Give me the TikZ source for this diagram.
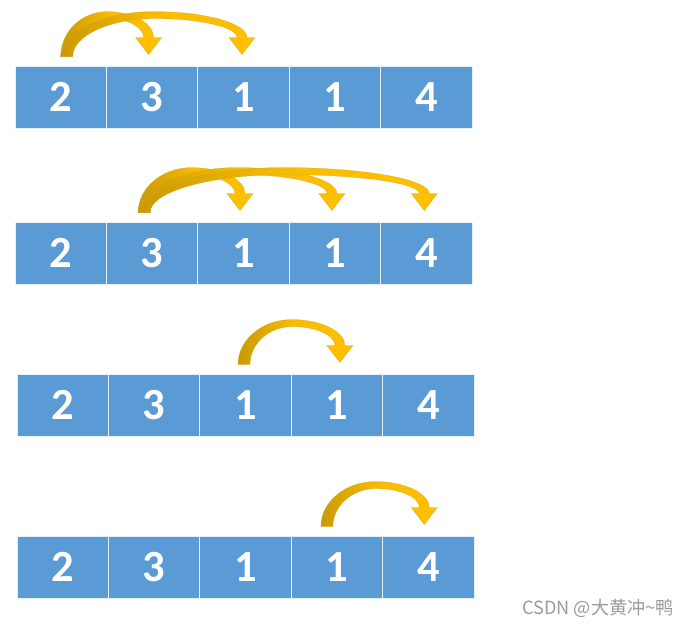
\documentclass[tikz,border=0pt]{standalone}
\usepackage{fontspec}
\setmainfont{Carlito}
\newfontfamily\cjk{Noto Sans CJK SC}
\usetikzlibrary{calc}
\definecolor{cellblue}{HTML}{5B9BD5}
\definecolor{arrowgold}{HTML}{FFC000}
\definecolor{arrowdark}{HTML}{C99A06}
\definecolor{markgray}{HTML}{9A9A9A}
% #1 from cell, #2 base shift, #3 to cell, #4 tip shift, #5 arc height
\def\curvearrow#1#2#3#4#5{
	\coordinate (ab) at ($(#1.north)+(#2,-9)$);
	\coordinate (at) at ($(#3.north)+(#4,-11)$);
	\coordinate (nk) at ($(at)+(5,-17)$);
	\coordinate (nl) at ($(at)+(-5,-17)$);
	\coordinate (br) at ($(ab)+(12,0)$);
	\coordinate (tp) at ($(ab)+(0,-#5)$);
	\coordinate (ti) at ($(br)+(0,-#5+7)$);
	\coordinate (pk) at ($(ab)!0.5!(nk)$);
	\coordinate (pi) at ($(br)!0.5!(nl)$);
	\path[jumparrow] (ab) .. controls ($(ab)!0.55!(tp)$) and ($(pk |- tp)!0.55!(tp)$) .. (pk |- tp)
		.. controls ($(pk |- tp)!0.55!(nk |- tp)$) and ($(nk)!0.55!(nk |- tp)$) .. (nk)
		-- ($(at)+(13,-17)$) -- (at) -- ($(at)+(-13,-17)$) -- (nl)
		.. controls ($(nl)!0.55!(nl |- ti)$) and ($(pi |- ti)!0.55!(nl |- ti)$) .. (pi |- ti)
		.. controls ($(pi |- ti)!0.55!(ti)$) and ($(br)!0.55!(ti)$) .. (br) -- cycle;
}

\begin{document}
\begin{tikzpicture}[x=0.03cm, y=-0.03cm,
	cell/.style={draw=white!85!cellblue, line width=0.7pt, fill=cellblue, text=white,
		minimum width=2.742cm, minimum height=1.86cm, inner sep=0pt,
		font=\fontsize{38}{44}\selectfont\bfseries},
	jumparrow/.style={left color=arrowdark, right color=arrowgold, middle color=arrowgold!90!arrowdark,
		draw=arrowdark!85, line width=0.2pt}]
		%%%%% START %%%%%
		
		\useasboundingbox (0,0) rectangle (691,627);
		
		\foreach \r/\x/\y in {1/15/97, 2/15/253, 3/17/405, 4/17/567}
			\foreach \v [count=\c] in {2,3,1,1,4}
				\node[cell] (r\r c\c) at ({\x+91.4*(\c-0.5)},\y) {\v};
		
		\curvearrow{r1c1}{0}{r1c2}{-3.5}{45}
		\curvearrow{r1c1}{0}{r1c3}{-1.5}{45}
		
		\curvearrow{r2c2}{-14}{r2c3}{-3.5}{45}
		\curvearrow{r2c2}{-14}{r2c4}{-3}{45}
		\curvearrow{r2c2}{-14}{r2c5}{-2}{45}
		
		\curvearrow{r3c3}{-7.5}{r3c4}{3}{45}
		
		\curvearrow{r4c4}{-16}{r4c5}{-4}{45}
		
		\node[text=markgray, font=\cjk\fontsize{15.5}{18}\selectfont] (mark) at (598,608) {CSDN @大黄冲\textasciitilde 鸭};
		
		%%%%% END %%%%%
\end{tikzpicture}
\end{document}
